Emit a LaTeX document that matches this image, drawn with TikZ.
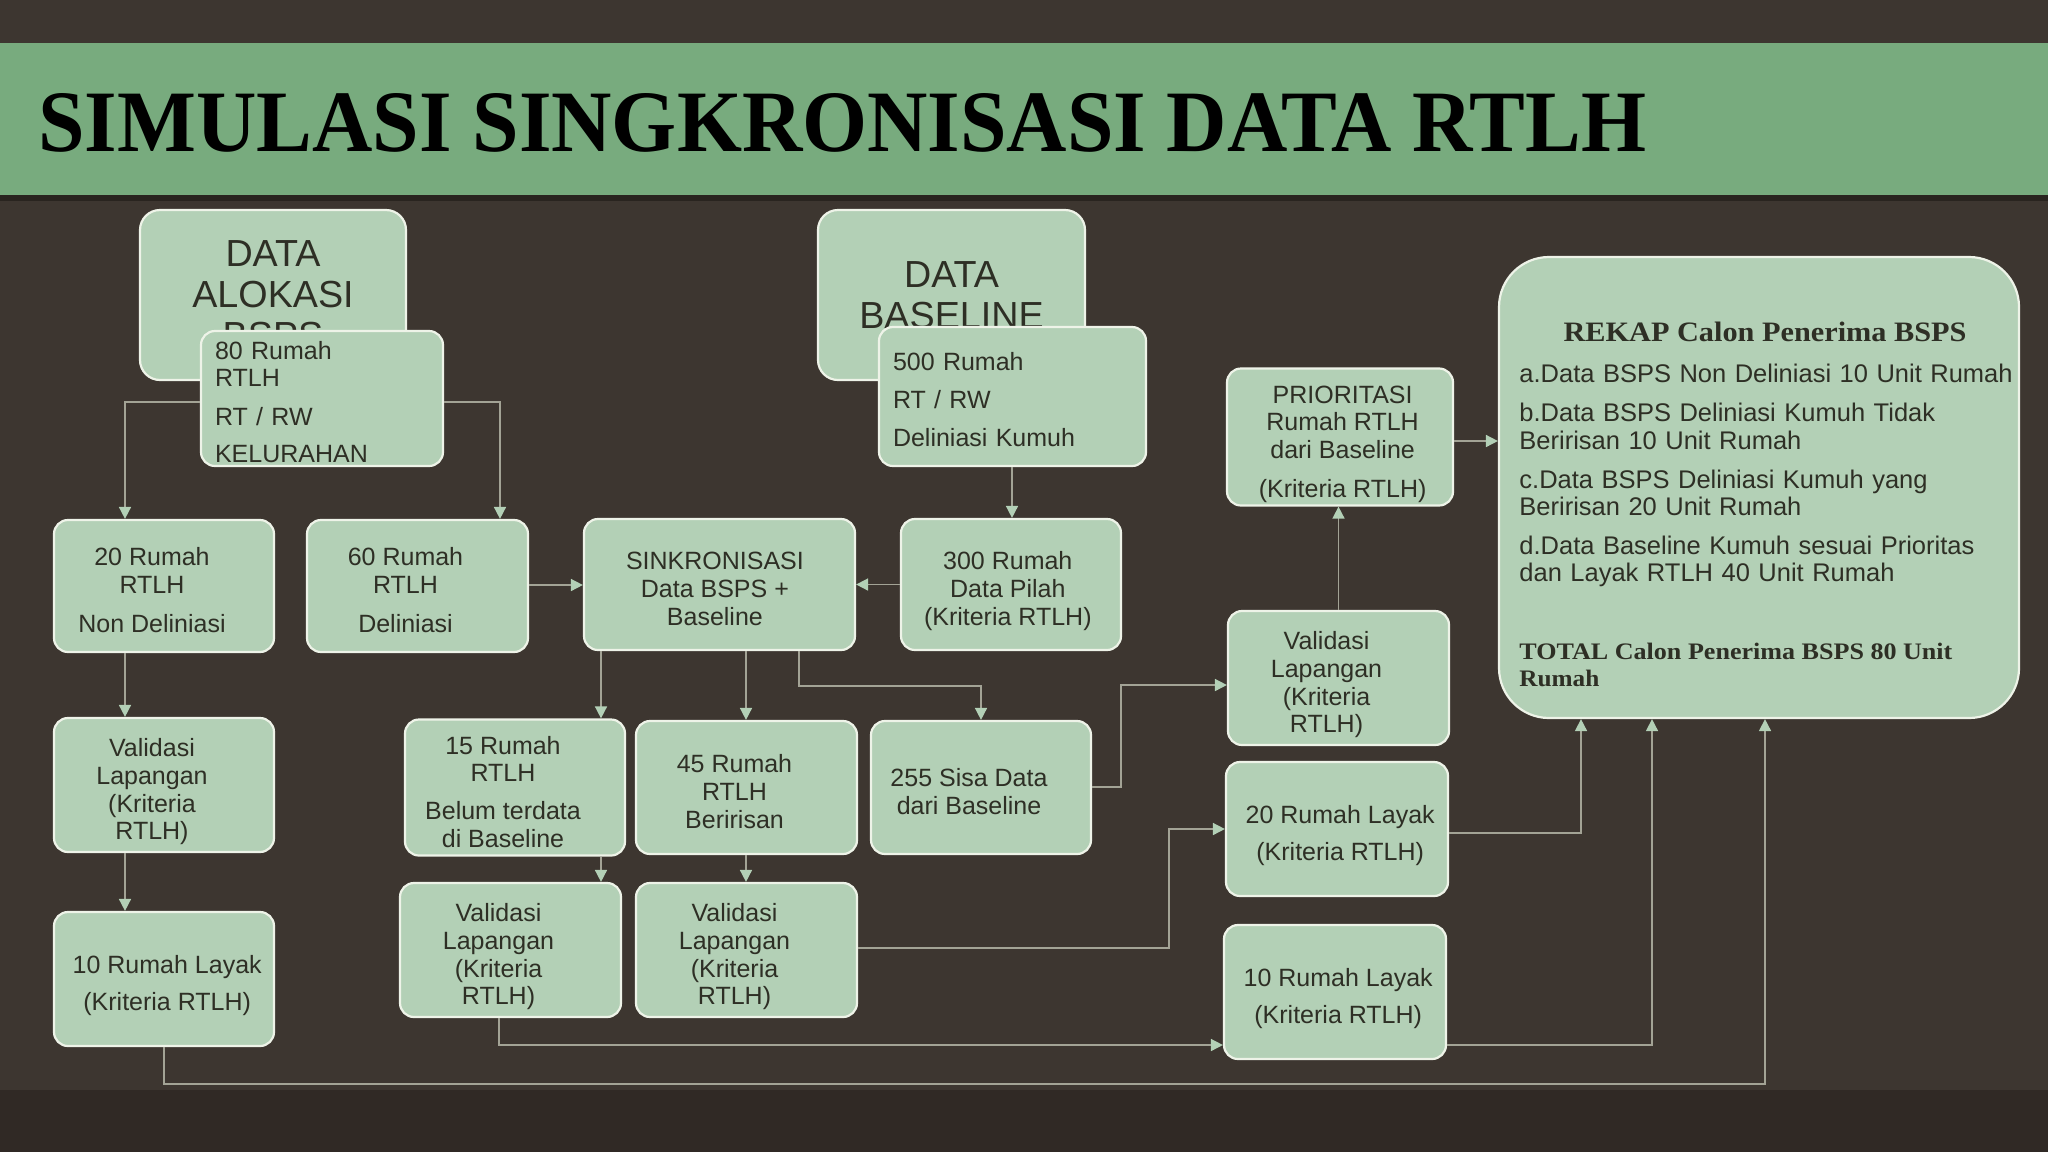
\documentclass[tikz,border=0pt]{standalone}
\usepackage{graphicx}
\usepackage{fontspec}
\setmainfont{Liberation Sans}
\newfontfamily\titlefont{Liberation Serif}
\usetikzlibrary{arrows.meta,calc}
\definecolor{bg}{HTML}{3D3630}
\definecolor{bgdark}{HTML}{302925}
\definecolor{hdr}{HTML}{78AB7E}
\definecolor{hdrshadow}{HTML}{29241F}
\definecolor{boxfill}{HTML}{B3D0B6}
\definecolor{boxline}{HTML}{EEF3E8}
\definecolor{linec}{HTML}{A3A395}
\definecolor{tipc}{HTML}{B3D0B6}
\definecolor{txt}{HTML}{2E2F25}
\newcommand\boxfont{\fontsize{12.5pt}{13.85pt}\selectfont}
\newcommand\listfont{\fontsize{12.75pt}{13.85pt}\selectfont}
\newcommand\bigfont{\fontsize{18.85pt}{20.5pt}\selectfont}
\newcommand\fstrut{\rule{0pt}{12.2pt}}
\newcommand\tstrut{\rule{0pt}{17.3pt}}
% centred lines, shifted horizontally by #1
\newcommand\tx[2][-6pt]{\hbox{\kern#1\begin{tabular}{@{}c@{}}\tstrut #2\end{tabular}\kern-#1}}
\tikzset{
  box/.style={draw=boxline, fill=boxfill, line width=1.1pt, rounded corners=7pt,
    inner sep=0pt, text=txt, font=\boxfont},
  bigbox/.style={box, rounded corners=10pt, font=\bigfont, align=center},
  conn/.style={draw=linec, line width=0.8pt, -{Triangle[length=6pt,width=6pt,color=tipc]}},
  lbl/.style={inner sep=0pt, text=txt}
}
\begin{document}
\begin{tikzpicture}[x=0.5pt,y=-0.5pt]
\useasboundingbox (0,0) rectangle (2048,1152);
% background
\fill[bg] (0,0) rectangle (2048,1152);
\fill[bgdark] (0,1090) rectangle (2048,1152);
\fill[hdrshadow] (0,195) rectangle (2048,201);
\fill[hdr] (0,43) rectangle (2048,195);
\node[lbl, anchor=base west, text=black] (title) at (38,151)
  {\resizebox{804pt}{29pt}{\titlefont\bfseries SIMULASI SINGKRONISASI DATA RTLH}};

% top boxes
\node[bigbox, minimum width=133pt, minimum height=85pt] (alok) at (273,295) {DATA\\ALOKASI\\BSPS};
\node[box, minimum width=121pt, minimum height=67.5pt, text width=107pt, align=left] (a80) at (322,398.5)
  {\fstrut 80 Rumah\\RTLH\\[5.5pt]RT / RW\\[4.5pt]KELURAHAN};
\node[bigbox, minimum width=133.5pt, minimum height=85pt] (base) at (951.5,295) {DATA\\BASELINE};
\node[box, minimum width=133.5pt, minimum height=69.5pt, text width=119.5pt, align=left] (a500) at (1012.5,396.5)
  {\fstrut 500 Rumah\\[5.2pt]RT / RW\\[5.2pt]Deliniasi Kumuh};

% row 2
\node[box, minimum width=110pt, minimum height=66pt] (r20) at (164,586) {\tx{20 Rumah\\RTLH\\[5.5pt]Non Deliniasi}};
\node[box, minimum width=110.5pt, minimum height=66pt] (r60) at (417.5,586) {\tx{60 Rumah\\RTLH\\[5.5pt]Deliniasi}};
\node[box, minimum width=135.5pt, minimum height=65.5pt] (sink) at (719.5,584.5) {\tx[-2.3pt]{SINKRONISASI\\Data BSPS +\\Baseline}};
\node[box, minimum width=110pt, minimum height=65.5pt] (r300) at (1011,584.5) {\tx[-1.6pt]{300 Rumah\\Data Pilah\\(Kriteria RTLH)}};
\node[box, minimum width=113pt, minimum height=67pt] (prio) at (1340,437) {\tx[1.3pt]{PRIORITASI\\Rumah RTLH\\dari Baseline\\[5.5pt](Kriteria RTLH)}};

% rekap
\node[box, rounded corners=25pt, minimum width=260pt, minimum height=230.5pt] (rekap) at (1759,487.5) {};
\node[lbl, anchor=base] (rktitle) at (1765,341)
  {\resizebox{201.5pt}{9.75pt}{\titlefont\bfseries REKAP Calon Penerima BSPS}};
\node[lbl, anchor=north west, text width=262pt, align=left, font=\listfont] (rklist) at (1519,357.6)
  {\fstrut a.Data BSPS Non Deliniasi 10 Unit Rumah\\[5.65pt]
   b.Data BSPS Deliniasi Kumuh Tidak\\Beririsan 10 Unit Rumah\\[5.65pt]
   c.Data BSPS Deliniasi Kumuh yang\\Beririsan 20 Unit Rumah\\[5.3pt]
   d.Data Baseline Kumuh sesuai Prioritas\\dan Layak RTLH 40 Unit Rumah};
\node[lbl, anchor=base west] (rktotal) at (1519,659)
  {\resizebox{216.5pt}{8.2pt}{\titlefont\bfseries TOTAL Calon Penerima BSPS 80 Unit}};
\node[lbl, anchor=base west] (rktotalb) at (1519,686)
  {\resizebox{40pt}{8.2pt}{\titlefont\bfseries Rumah}};

% lower boxes
\node[box, minimum width=110pt, minimum height=67pt] (vL) at (164,785) {\tx{Validasi\\Lapangan\\(Kriteria\\RTLH)}};
\node[box, minimum width=110pt, minimum height=67pt] (l10L) at (164,979) {\tx[1.6pt]{10 Rumah Layak\\[4.5pt](Kriteria RTLH)}};
\node[box, minimum width=110pt, minimum height=66.5pt] (r15) at (515,787.5) {\tx{15 Rumah\\RTLH\\[5pt]Belum terdata\\di Baseline}};
\node[box, minimum width=110.5pt, minimum height=66.5pt] (r45) at (746.5,787.5) {\tx{45 Rumah\\RTLH\\Beririsan}};
\node[box, minimum width=110pt, minimum height=66.5pt] (sisa) at (981,787.5) {\tx{255 Sisa Data\\dari Baseline}};
\node[box, minimum width=110.5pt, minimum height=67pt] (v15) at (510.5,950) {\tx{Validasi\\Lapangan\\(Kriteria\\RTLH)}};
\node[box, minimum width=110.5pt, minimum height=67pt] (v45) at (746.5,950) {\tx{Validasi\\Lapangan\\(Kriteria\\RTLH)}};
\node[box, minimum width=110.5pt, minimum height=67pt] (vR) at (1338.5,678) {\tx{Validasi\\Lapangan\\(Kriteria\\RTLH)}};
\node[box, minimum width=111pt, minimum height=67pt] (l20) at (1337,829) {\tx[1.6pt]{20 Rumah Layak\\[4.5pt](Kriteria RTLH)}};
\node[box, minimum width=111pt, minimum height=67pt] (l10R) at (1335,992) {\tx[1.6pt]{10 Rumah Layak\\[4.5pt](Kriteria RTLH)}};

% connectors
\draw[conn] (a80.west |- 0,402) -| (r20.north -| 125,0);
\draw[conn] (a80.east |- 0,402) -| (r60.north -| 500,0);
\draw[conn] (r60.east |- 0,585) -- (sink.west |- 0,585);
\draw[conn] (r300.west) -- (sink.east);
\draw[conn] (a500.south -| 1012,0) -- (r300.north -| 1012,0);
\draw[conn] (sink.south -| 601,0) -- (r15.north -| 601,0);
\draw[conn] (sink.south -| 746,0) -- (r45.north -| 746,0);
\draw[conn] (sink.south -| 799,0) -- (799,686) -| (sisa.north);
\draw[conn] (r15.south -| 601,0) -- (v15.north -| 601,0);
\draw[conn] (r45.south -| 746,0) -- (v45.north -| 746,0);
\draw[conn] (r20.south -| 125,0) -- (vL.north -| 125,0);
\draw[conn] (vL.south -| 125,0) -- (l10L.north -| 125,0);
\draw[conn] (l10L.south) |- (1765,1084) -- (rekap.south -| 1765,0);
\draw[conn] (v15.south -| 499,0) |- (l10R.west |- 0,1045);
\draw[conn] (l10R.east |- 0,1045) -| (rekap.south -| 1652,0);
\draw[conn] (v45.east |- 0,948) -- (1169,948) |- (l20.west);
\draw[conn] (l20.east |- 0,833) -| (rekap.south -| 1581,0);
\draw[conn] (sisa.east |- 0,787) -- (1121,787) |- (vR.west |- 0,685);
\draw[conn] (vR.north) -- (vR.north |- prio.south);
\draw[conn] (prio.east |- 0,441) -- (rekap.west |- 0,441);
\end{tikzpicture}
\end{document}
